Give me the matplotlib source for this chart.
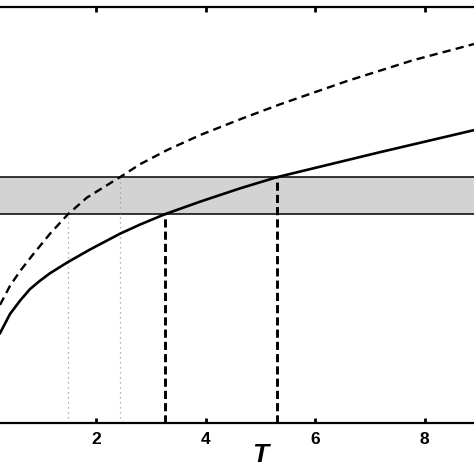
import matplotlib
matplotlib.use("Agg")
import matplotlib.pyplot as plt

# Solid curve
T_solid = [0.247, 0.429, 0.612, 0.795, 0.977, 1.160, 1.489, 1.890, 2.438, 2.804,
           3.260, 3.900, 4.630, 5.306, 7.187, 8.904]
y_solid = [0.216, 0.262, 0.294, 0.322, 0.342, 0.360, 0.387, 0.417, 0.455, 0.477,
           0.502, 0.532, 0.564, 0.591, 0.651, 0.704]

# Dashed curve
T_dash = [0.247, 0.430, 0.612, 0.849, 1.160, 1.489, 1.836, 2.438, 2.804, 3.297,
          3.900, 4.630, 5.360, 6.584, 7.789, 8.904]
y_dash = [0.284, 0.330, 0.365, 0.405, 0.455, 0.502, 0.542, 0.591, 0.622, 0.656,
          0.692, 0.730, 0.766, 0.822, 0.872, 0.911]

band_low, band_high = 0.502, 0.591
dotted_T = [1.49, 2.44]
dotted_top = [0.502, 0.591]
dashed_T = [3.26, 5.31]
dashed_top = [0.502, 0.591]
xticks = [2, 4, 6, 8]

plt.rcParams['font.family'] = ['Liberation Sans', 'DejaVu Sans']

fig = plt.figure(figsize=(4.74, 4.74), dpi=100)
W = 474.0
ax = fig.add_axes([-13.5 / W, (474 - 423) / W, 547.5 / W, (423 - 7) / W])
ax.set_xlim(0, 10)
ax.set_ylim(0, 1)

ax.axhspan(band_low, band_high, facecolor='#d3d3d3', edgecolor='black', linewidth=1.1, zorder=1)

for t, top in zip(dotted_T, dotted_top):
    ax.plot([t, t], [0, top], color='#999999', linestyle=(0, (1, 3)), linewidth=0.9, zorder=2)
for t, top in zip(dashed_T, dashed_top):
    ax.plot([t, t], [0, top], color='black', linestyle=(0, (2.8, 1.4)), linewidth=2.1, zorder=2)

ax.plot(T_solid, y_solid, color='black', linewidth=1.9, zorder=3, solid_joinstyle='round')
ax.plot(T_dash, y_dash, color='black', linewidth=1.7, linestyle=(0, (3.5, 2.2)), zorder=3)

ax.set_xticks(xticks)
ax.set_xticklabels([str(v) for v in xticks], fontweight='bold', fontsize=12.5)
ax.set_yticks([])
ax.tick_params(axis='x', direction='in', length=3.5, width=2, top=True, pad=6.5)
for s in ax.spines.values():
    s.set_linewidth(1.6)
ax.set_xlabel('T', fontsize=19, fontweight='bold', fontstyle='italic', labelpad=-3)

fig.savefig('out.png', dpi=100)
